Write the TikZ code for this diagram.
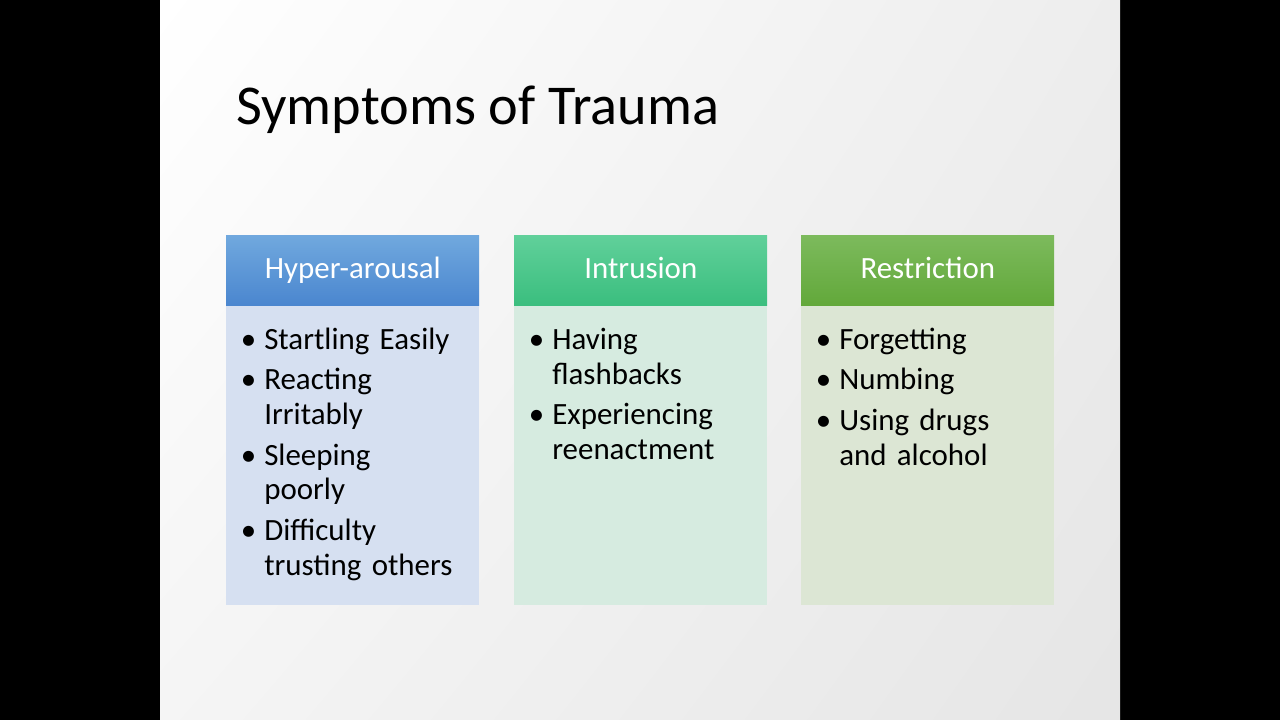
\documentclass[tikz,border=0pt]{standalone}
\usepackage{fontspec}
\setmainfont{Carlito}
\usepackage{enumitem}
\usepackage{tikz}
\usetikzlibrary{positioning, calc, shadings}
\definecolor{hypblue}{RGB}{74, 134, 207}
\definecolor{hypbluetop}{RGB}{112, 168, 222}
\definecolor{hypbody}{RGB}{214, 224, 241}
\definecolor{intgreen}{RGB}{58, 190, 126}
\definecolor{intgreentop}{RGB}{96, 208, 154}
\definecolor{intbody}{RGB}{214, 235, 224}
\definecolor{resgreen}{RGB}{98, 168, 58}
\definecolor{resgreentop}{RGB}{124, 186, 92}
\definecolor{resbody}{RGB}{220, 230, 212}

\tikzset{
  header/.style={minimum width=6.325cm, minimum height=1.75cm, inner sep=0pt,
    text=white, font=\fontsize{22}{26}\selectfont, anchor=north west},
  items/.style={text width=5.6cm, align=left, anchor=north west, inner sep=0pt,
    font=\fontsize{22}{24.8}\selectfont}
}
\setlist[itemize]{leftmargin=0.4cm, labelsep=0.2cm, itemsep=4pt, topsep=0pt, parsep=0pt, partopsep=0pt}

\begin{document}
\begin{tikzpicture}[x=0.025cm, y=-0.025cm]
    % Frame and slide
    \fill[black] (0,0) rectangle (1280,720);
    \shade[upper left=white, upper right=white!93!black, lower left=white!96!black,
      lower right=white!90!black] (160,0) rectangle (1120,720);
    \useasboundingbox (0,0) rectangle (1280,720);

    % Title
    \node[anchor=base west, inner sep=0pt, font=\fontsize{40}{46}\selectfont] (title) at (236,125) {Symptoms of Trauma};

    % Columns
    \fill[hypbody] (226,306) rectangle (479,605);
    \shade[top color=hypbluetop, bottom color=hypblue] (226,236) rectangle (479,306);
    \node[header] (hyper) at (226,236) {\strut Hyper-arousal};

    \fill[intbody] (514,306) rectangle (767,605);
    \shade[top color=intgreentop, bottom color=intgreen] (514,236) rectangle (767,306);
    \node[header] (intr) at (514,236) {\strut Intrusion};

    \fill[resbody] (801,306) rectangle (1054,605);
    \shade[top color=resgreentop, bottom color=resgreen] (801,236) rectangle (1054,306);
    \node[header] (restr) at (801,236) {\strut Restriction};

    % Lists
    \node[items] (hyperlist) at (248,314) {\begin{itemize}
      \item Startling Easily
      \item Reacting\\ Irritably
      \item Sleeping\\ poorly
      \item Difficulty\\ trusting others
    \end{itemize}};
    \node[items] (intrlist) at (536,314) {\begin{itemize}
      \item Having\\ flashbacks
      \item Experiencing\\ reenactment
    \end{itemize}};
    \node[items] (restrlist) at (823,314) {\begin{itemize}
      \item Forgetting
      \item Numbing
      \item Using drugs\\ and alcohol
    \end{itemize}};
\end{tikzpicture}
\end{document}
